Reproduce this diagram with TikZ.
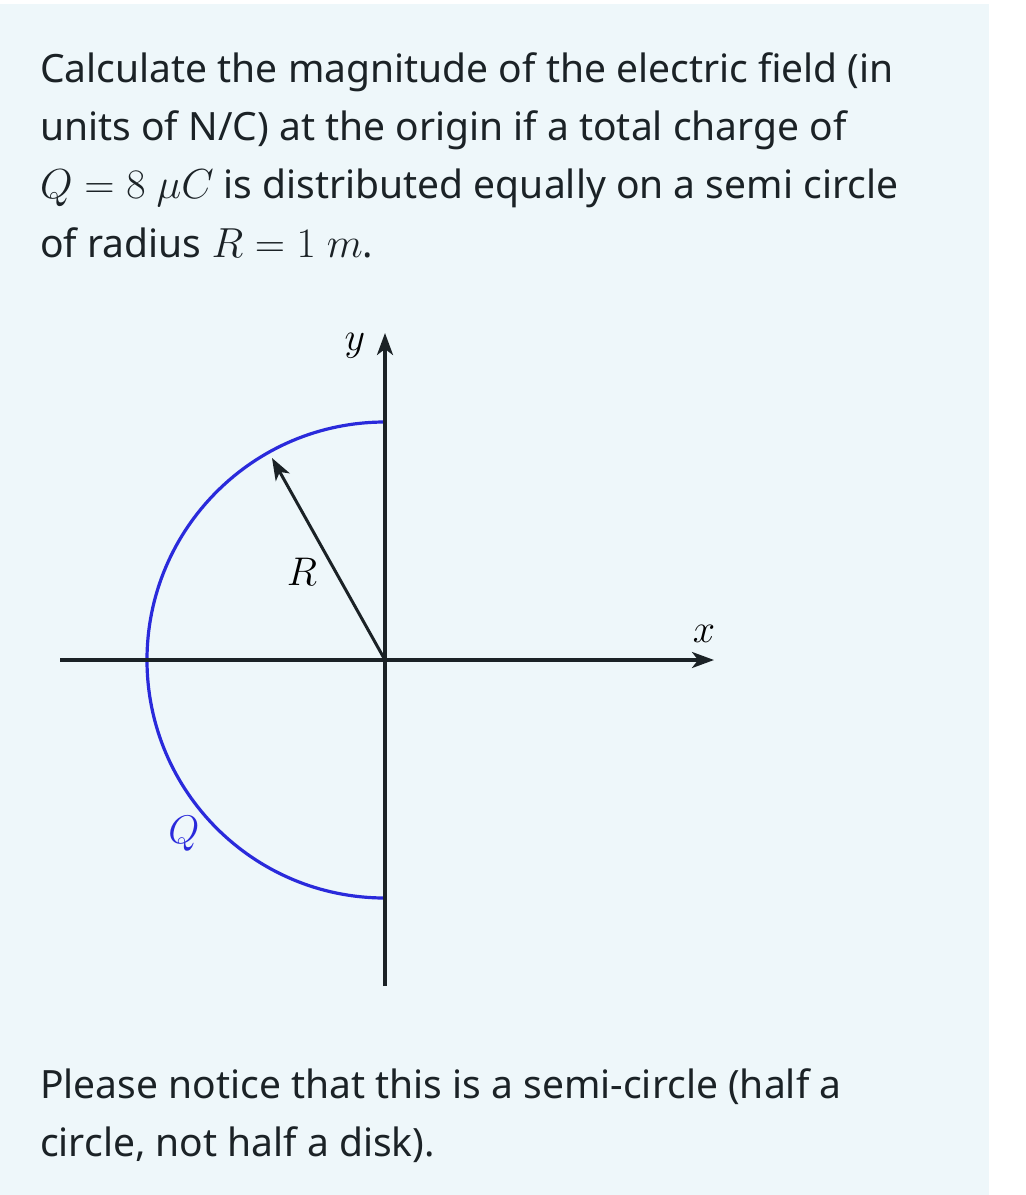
\RequirePackage{fix-cm}
\documentclass[tikz,border=0pt]{standalone}
\usepackage{fontspec}
\setmainfont{Noto Sans}
\usetikzlibrary{arrows.meta}
\definecolor{panel}{HTML}{EEF7FA}
\definecolor{ink}{HTML}{1B2226}
\definecolor{arcblue}{HTML}{2A2ADB}
\newcommand{\bigmath}[1]{{\fontsize{42}{46}\selectfont$#1$}}
\tikzset{
  txt/.style={anchor=base west, inner sep=0pt, text=ink, font=\fontsize{39}{46}\selectfont},
  axis/.style={line width=3.2pt, draw=ink, -{Stealth[length=22pt,width=16pt,inset=6pt]}},
  lbl/.style={inner sep=0pt, font=\fontsize{40}{44}\selectfont}
}
\begin{document}
\begin{tikzpicture}[x=1pt,y=-1pt]
\useasboundingbox (0,0) rectangle (1026,1195);
\fill[white] (0,0) rectangle (1026,1195);
\fill[panel] (0,4) rectangle (989,1195);
% text
\node[txt] (t1) at (40,82) {Calculate the magnitude of the electric field (in};
\node[txt] (t2) at (40,140) {units of N/C) at the origin if a total charge of};
\node[txt] (t3) at (40,198) {\bigmath{Q=8\ \mu C} is distributed equally on a semi circle};
\node[txt] (t4) at (40,257) {of radius \bigmath{R=1\ m}.};
\node[txt] (t5) at (40,1098) {Please notice that this is a semi-circle (half a};
\node[txt] (t6) at (40,1156) {circle, not half a disk).};
% diagram
\coordinate (O) at (385,660);
\coordinate (xl) at (60,660);
\coordinate (xr) at (714,660);
\coordinate (yb) at (385,986);
\coordinate (yt) at (385,333);
\draw[arcblue, line width=3.2pt] (385,422) arc[start angle=-90, end angle=-270, radius=238];
\draw[axis] (xl) -- (xr);
\draw[axis] (yb) -- (yt);
\coordinate (rt) at (272,458);
\draw[line width=3pt, draw=ink, -{Stealth[length=22pt,width=16pt,inset=6pt]}] (O) -- (rt);
\node[lbl] (ylab) at (355,346) {$y$};
\node[lbl] (xlab) at (704,634) {$x$};
\node[lbl] (Rlab) at (302,572) {$R$};
\node[lbl, text=arcblue] (Qlab) at (184,834) {$Q$};
\end{tikzpicture}
\end{document}
